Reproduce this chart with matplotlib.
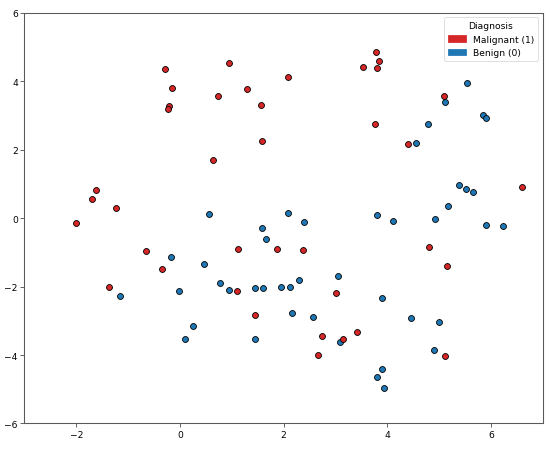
import matplotlib
matplotlib.use("Agg")
import matplotlib.pyplot as plt
import matplotlib.patches as mpatches

# benign (0) points
benign_x = [0.57, 1.58, 5.53, 5.12, 5.84, 5.90, 4.79, 4.55, 5.39, 5.52, 5.66, 5.18,
            2.09, 2.40, 3.81, 4.12, 4.92, 5.90, 6.23, 1.67, -0.17, 0.46, -1.15, -0.02,
            0.78, 0.95, 1.44, 1.61, 0.25, 0.10, 1.44, 3.05, 2.29, 1.95, 2.12, 3.89,
            2.17, 2.57, 4.45, 4.99, 3.09, 4.90, 3.89, 3.80, 3.94]
benign_y = [0.13, -0.28, 3.95, 3.38, 3.01, 2.92, 2.75, 2.20, 0.97, 0.86, 0.77, 0.36,
            0.15, -0.11, 0.09, -0.08, -0.03, -0.19, -0.23, -0.62, -1.14, -1.35, -2.27, -2.12,
            -1.90, -2.10, -2.04, -2.04, -3.15, -3.54, -3.53, -1.69, -1.82, -2.00, -2.02, -2.32,
            -2.77, -2.89, -2.91, -3.03, -3.62, -3.84, -4.40, -4.63, -4.95]

# malignant (1) points
malig_x = [-0.28, -0.16, -0.22, -0.24, 0.95, 0.74, 1.29, 1.57, 1.58, 0.64, -1.62, -1.69,
           -1.24, -2.00, 3.78, 3.84, 3.53, 3.81, 2.09, 5.10, 3.77, 4.41, 6.60, 1.87,
           2.38, 4.80, 5.16, 3.02, 2.75, 3.15, 3.42, 2.67, 5.11, -0.66, -0.35, -1.36,
           1.13, 1.11, 1.44]
malig_y = [4.37, 3.79, 3.28, 3.20, 4.52, 3.58, 3.78, 3.29, 2.24, 1.71, 0.83, 0.56,
           0.29, -0.14, 4.84, 4.59, 4.42, 4.38, 4.13, 3.57, 2.75, 2.16, 0.92, -0.90,
           -0.93, -0.83, -1.40, -2.20, -3.43, -3.52, -3.32, -4.01, -4.03, -0.97, -1.48, -2.00,
           -0.90, -2.14, -2.84]

red = '#d62728'
blue = '#1f77b4'

plt.rcParams['font.size'] = 12

fig = plt.figure(figsize=(10, 8.2), dpi=55)
ax = fig.add_axes([0.0445, 0.0588, 0.9422, 0.9108])

ax.scatter(benign_x, benign_y, c=blue, s=60, edgecolors='black', linewidths=1.1)
ax.scatter(malig_x, malig_y, c=red, s=60, edgecolors='black', linewidths=1.1)

ax.set_xlim(-3, 7)
ax.set_ylim(-6, 6)
for sp in ax.spines.values():
    sp.set_linewidth(1.4)
    sp.set_color('0.35')
ax.tick_params(length=5, width=1.2, color='0.35')

handles = [mpatches.Patch(color=red, label='Malignant (1)'),
           mpatches.Patch(color=blue, label='Benign (0)')]
ax.legend(handles=handles, title='Diagnosis', loc='upper right')

fig.savefig('out.png', dpi=55)
